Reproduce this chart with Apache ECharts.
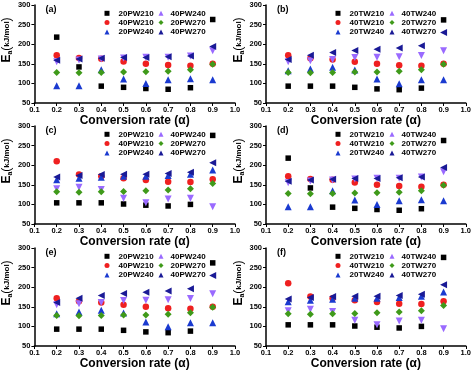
<!DOCTYPE html>
<html><head><meta charset="utf-8">
<script src="https://cdn.jsdelivr.net/npm/echarts@6/dist/echarts.min.js"></script>
<style>html,body{margin:0;padding:0;background:#fff}#c{width:474px;height:371px}</style>
</head><body><div id="c"></div>
<script>
// Conversion rate values (x)
const alpha = [0.2, 0.3, 0.4, 0.5, 0.6, 0.7, 0.8, 0.9];
// Panel labels and series names
const panelLabels = ['(a)', '(b)', '(c)', '(d)', '(e)', '(f)'];
const namesPW = ['20PW210', '40PW210', '20PW240', '40PW240', '20PW270', '40PW270'];
const namesTW = ['20TW210', '40TW210', '20TW240', '40TW240', '20TW270', '40TW270'];

// Data set 1 (panels a and d), Ea in kJ/mol
const s1_20_210 = [218, 142, 93, 90, 87, 85, 89, 263];
const s1_40_210 = [172, 165, 163, 156, 150, 147, 145, 150];
const s1_20_240 = [94, 94, 135, 111, 100, 109, 112, 109];
const s1_40_240 = [155, 160, 162, 165, 167, 167, 170, 183];
const s1_20_270 = [128, 127, 128, 129, 130, 131, 135, 149];
const s1_40_270 = [159, 162, 164, 166, 166, 168, 170, 194];

// Data set 2 (panels b and e)
const s2_20_210 = [93, 93, 93, 90, 86, 84, 88, 262];
const s2_40_210 = [172, 164, 161, 155, 150, 146, 145, 150];
const s2_20_240 = [132, 137, 141, 134, 111, 99, 109, 109];
const s2_40_240 = [155, 158, 161, 166, 167, 168, 171, 183];
const s2_20_270 = [128, 127, 128, 129, 129, 131, 135, 149];
const s2_40_270 = [161, 172, 179, 184, 187, 190, 196, 230];

// Data set 3 (panels c and f)
const s3_20_210 = [104, 104, 104, 101, 98, 96, 100, 276];
const s3_40_210 = [210, 176, 172, 167, 162, 158, 157, 164];
const s3_20_240 = [163, 167, 169, 172, 172, 174, 177, 188];
const s3_40_240 = [140, 144, 138, 116, 104, 114, 116, 94];
const s3_20_270 = [132, 131, 132, 133, 135, 137, 140, 153];
const s3_40_270 = [170, 174, 176, 177, 177, 179, 182, 206];

const set1 = [s1_20_210, s1_40_210, s1_20_240, s1_40_240, s1_20_270, s1_40_270];
const set2 = [s2_20_210, s2_40_210, s2_20_240, s2_40_240, s2_20_270, s2_40_270];
const set3 = [s3_20_210, s3_40_210, s3_20_240, s3_40_240, s3_20_270, s3_40_270];
const panelSets = [set1, set2, set3, set1, set2, set3];
const panelNames = [namesPW, namesTW, namesPW, namesTW, namesPW, namesTW];

const FF = 'Liberation Sans, Arial, sans-serif';
const colors = ['#000000', '#ef2020', '#1a3ad0', '#9a6aff', '#3f9a1a', '#1a1a96'];
const symbols = ['rect', 'circle', 'triangle', 'triangle', 'diamond', 'triangle'];
const rotates = [0, 0, 0, 180, 0, 90];
const sizes = [5.5, 6.5, 7, 7, 7, 7];

const lefts = [32, 266, 32, 266, 32, 266];
const tops = [5, 5, 126, 126, 248, 248];
const GW = 203, GH = 98;

const grid = [], xAxis = [], yAxis = [], series = [], legend = [], graphic = [];
for (let p = 0; p < 6; p++) {
  grid.push({left: lefts[p], top: tops[p], width: GW, height: GH});
  xAxis.push({
    type: 'value', gridIndex: p, min: 0.1, max: 1.0, interval: 0.1,
    axisLine: {onZero: false, lineStyle: {color: '#000', width: 1.5}},
    axisTick: {show: true, inside: false, length: 3, lineStyle: {color: '#000', width: 1}},
    axisLabel: {color: '#000', fontFamily: FF, fontWeight: 'bold', fontSize: 7.5, margin: 3,
      formatter: v => v.toFixed(1)},
    splitLine: {show: false},
    name: 'Conversion rate (α)', nameLocation: 'middle', nameGap: 9,
    nameTextStyle: {color: '#000', fontFamily: FF, fontWeight: 'bold', fontSize: 12}
  });
  yAxis.push({
    type: 'value', gridIndex: p, min: 50, max: 300, interval: 50,
    axisLine: {show: true, onZero: false, lineStyle: {color: '#000', width: 1.5}},
    axisTick: {show: true, inside: false, length: 3, lineStyle: {color: '#000', width: 1}},
    axisLabel: {color: '#000', fontFamily: FF, fontWeight: 'bold', fontSize: 7.5, margin: 4},
    splitLine: {show: false},
    name: '{e|E}{s|a}{p|(}{u|kJ/mol}{p|)}', nameLocation: 'middle', nameGap: 17,
    nameTextStyle: {
      padding: [0, 0, 0, 28],
      rich: {
        e: {fontFamily: FF, fontWeight: 'bold', fontSize: 12, color: '#000', lineHeight: 14},
        s: {fontFamily: FF, fontWeight: 'bold', fontSize: 7, color: '#000', lineHeight: 14, verticalAlign: 'bottom', padding: [4, 0, 0, 0]},
        p: {fontFamily: FF, fontSize: 12, color: '#000', lineHeight: 14},
        u: {fontFamily: FF, fontWeight: 'bold', fontSize: 8, color: '#000', lineHeight: 14}
      }
    }
  });
  const names = panelNames[p];
  const data = panelSets[p];
  for (let k = 0; k < 6; k++) {
    series.push({
      type: 'scatter', name: names[k], xAxisIndex: p, yAxisIndex: p,
      symbol: symbols[k], symbolRotate: rotates[k], symbolSize: sizes[k],
      itemStyle: {color: colors[k], opacity: 1},
      data: alpha.map((a, i) => [a, data[k][i]])
    });
  }
  const cx1 = (p % 2 === 0) ? 107 : 338;
  const row1 = tops[p] + 8.3;
  [0, 1].forEach(c => {
    legend.push({
      orient: 'vertical', left: cx1 + c * 54 - 2.5, top: row1 - 4.5, padding: 0,
      itemWidth: 5, itemHeight: 5, itemGap: 0.3,
      data: names.slice(c * 3, c * 3 + 3),
      textStyle: {fontFamily: FF, fontWeight: 'bold', fontSize: 8, color: '#000', lineHeight: 9, padding: [0, 0, 0, c === 0 ? 4 : 2]}
    });
  });
  graphic.push({
    type: 'text', left: (p % 2 === 0) ? 45.5 : 277, top: tops[p] + 0.5,
    style: {text: panelLabels[p], fontFamily: FF, fontWeight: 'bold', fontSize: 9, fill: '#000'}
  });
}

const chart = echarts.init(document.getElementById('c'), null, {renderer: 'canvas'});
chart.setOption({
  backgroundColor: '#fff', animation: false,
  grid, xAxis, yAxis, series, legend, graphic
});
</script></body></html>
